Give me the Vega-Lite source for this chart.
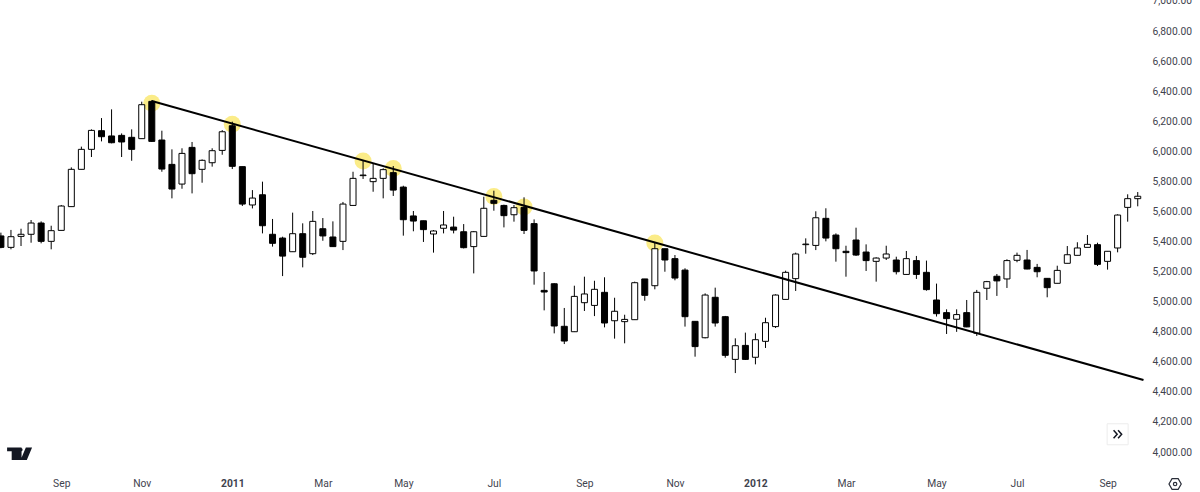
{
  "$schema": "https://vega.github.io/schema/vega-lite/v6.json",
  "autosize": {"type": "none"},
  "padding": {"left": 0, "top": 0, "right": 54, "bottom": 30},
  "width": 1146,
  "height": 462,
  "background": "#ffffff",
  "config": {"view": {"stroke": null}},
  "datasets": {
    "candles": [
      {"date":"2010-07-26","open":5437,"high":5459,"low":5355,"close":5361},
      {"date":"2010-08-02","open":5361,"high":5477,"low":5348,"close":5432},
      {"date":"2010-08-09","open":5434,"high":5485,"low":5370,"close":5448},
      {"date":"2010-08-16","open":5448,"high":5543,"low":5392,"close":5523},
      {"date":"2010-08-23","open":5523,"high":5534,"low":5388,"close":5401},
      {"date":"2010-08-30","open":5401,"high":5505,"low":5348,"close":5472},
      {"date":"2010-09-06","open":5474,"high":5643,"low":5474,"close":5636},
      {"date":"2010-09-13","open":5632,"high":5893,"low":5632,"close":5880},
      {"date":"2010-09-20","open":5880,"high":6031,"low":5880,"close":6013},
      {"date":"2010-09-27","open":6013,"high":6146,"low":5962,"close":6139},
      {"date":"2010-10-04","open":6137,"high":6221,"low":6066,"close":6097},
      {"date":"2010-10-11","open":6102,"high":6279,"low":6053,"close":6057},
      {"date":"2010-10-18","open":6106,"high":6119,"low":5962,"close":6062},
      {"date":"2010-10-25","open":6093,"high":6146,"low":5937,"close":6013},
      {"date":"2010-11-01","open":6084,"high":6330,"low":6084,"close":6310},
      {"date":"2010-11-08","open":6332,"high":6340,"low":6062,"close":6066},
      {"date":"2010-11-15","open":6075,"high":6137,"low":5864,"close":5882},
      {"date":"2010-11-22","open":5913,"high":6013,"low":5687,"close":5749},
      {"date":"2010-11-29","open":5782,"high":6020,"low":5751,"close":5986},
      {"date":"2010-12-06","open":6026,"high":6062,"low":5720,"close":5851},
      {"date":"2010-12-13","open":5880,"high":5946,"low":5791,"close":5940},
      {"date":"2010-12-20","open":5924,"high":6020,"low":5898,"close":6004},
      {"date":"2010-12-27","open":6006,"high":6141,"low":5977,"close":6130},
      {"date":"2011-01-03","open":6170,"high":6197,"low":5882,"close":5900},
      {"date":"2011-01-10","open":5898,"high":5898,"low":5636,"close":5649},
      {"date":"2011-01-17","open":5643,"high":5742,"low":5620,"close":5689},
      {"date":"2011-01-24","open":5711,"high":5798,"low":5454,"close":5505},
      {"date":"2011-01-31","open":5448,"high":5550,"low":5366,"close":5388},
      {"date":"2011-02-07","open":5423,"high":5432,"low":5170,"close":5303},
      {"date":"2011-02-14","open":5332,"high":5592,"low":5332,"close":5452},
      {"date":"2011-02-21","open":5452,"high":5521,"low":5228,"close":5295},
      {"date":"2011-02-28","open":5319,"high":5603,"low":5310,"close":5534},
      {"date":"2011-03-07","open":5485,"high":5556,"low":5405,"close":5437},
      {"date":"2011-03-14","open":5430,"high":5534,"low":5366,"close":5366},
      {"date":"2011-03-21","open":5401,"high":5663,"low":5343,"close":5649},
      {"date":"2011-03-28","open":5640,"high":5864,"low":5640,"close":5820},
      {"date":"2011-04-04","open":5838,"high":5938,"low":5816,"close":5842},
      {"date":"2011-04-11","open":5798,"high":5920,"low":5731,"close":5820},
      {"date":"2011-04-18","open":5820,"high":5887,"low":5687,"close":5878},
      {"date":"2011-04-25","open":5858,"high":5902,"low":5703,"close":5742},
      {"date":"2011-05-02","open":5762,"high":5771,"low":5439,"close":5545},
      {"date":"2011-05-09","open":5570,"high":5603,"low":5468,"close":5536},
      {"date":"2011-05-16","open":5538,"high":5538,"low":5397,"close":5479},
      {"date":"2011-05-23","open":5450,"high":5476,"low":5326,"close":5470},
      {"date":"2011-05-30","open":5488,"high":5603,"low":5454,"close":5510},
      {"date":"2011-06-06","open":5496,"high":5565,"low":5454,"close":5476},
      {"date":"2011-06-13","open":5465,"high":5516,"low":5354,"close":5359},
      {"date":"2011-06-20","open":5366,"high":5470,"low":5188,"close":5465},
      {"date":"2011-06-27","open":5434,"high":5698,"low":5434,"close":5621},
      {"date":"2011-07-04","open":5674,"high":5738,"low":5605,"close":5654},
      {"date":"2011-07-11","open":5640,"high":5645,"low":5494,"close":5572},
      {"date":"2011-07-18","open":5578,"high":5643,"low":5532,"close":5625},
      {"date":"2011-07-25","open":5627,"high":5694,"low":5450,"close":5474},
      {"date":"2011-08-01","open":5519,"high":5547,"low":5113,"close":5204},
      {"date":"2011-08-08","open":5075,"high":5197,"low":4942,"close":5064},
      {"date":"2011-08-15","open":5119,"high":5122,"low":4789,"close":4838},
      {"date":"2011-08-22","open":4836,"high":4958,"low":4718,"close":4738},
      {"date":"2011-08-29","open":4800,"high":5106,"low":4798,"close":5035},
      {"date":"2011-09-05","open":4993,"high":5166,"low":4938,"close":5051},
      {"date":"2011-09-12","open":4975,"high":5139,"low":4904,"close":5082},
      {"date":"2011-09-19","open":5062,"high":5162,"low":4829,"close":4858},
      {"date":"2011-09-26","open":4873,"high":5026,"low":4754,"close":4936},
      {"date":"2011-10-03","open":4867,"high":4913,"low":4723,"close":4882},
      {"date":"2011-10-10","open":4880,"high":5133,"low":4880,"close":5126},
      {"date":"2011-10-17","open":5151,"high":5151,"low":5006,"close":5042},
      {"date":"2011-10-24","open":5106,"high":5397,"low":5082,"close":5352},
      {"date":"2011-10-31","open":5352,"high":5352,"low":5199,"close":5277},
      {"date":"2011-11-07","open":5286,"high":5310,"low":5142,"close":5157},
      {"date":"2011-11-14","open":5210,"high":5222,"low":4834,"close":4900},
      {"date":"2011-11-21","open":4869,"high":4869,"low":4634,"close":4701},
      {"date":"2011-11-28","open":4760,"high":5055,"low":4756,"close":5044},
      {"date":"2011-12-05","open":5029,"high":5093,"low":4834,"close":4858},
      {"date":"2011-12-12","open":4900,"high":4905,"low":4627,"close":4643},
      {"date":"2011-12-19","open":4616,"high":4756,"low":4525,"close":4707},
      {"date":"2011-12-26","open":4709,"high":4794,"low":4612,"close":4616},
      {"date":"2012-01-02","open":4630,"high":4789,"low":4583,"close":4747},
      {"date":"2012-01-09","open":4736,"high":4893,"low":4692,"close":4860},
      {"date":"2012-01-16","open":4834,"high":5049,"low":4825,"close":5044},
      {"date":"2012-01-23","open":5015,"high":5206,"low":5015,"close":5195},
      {"date":"2012-01-30","open":5153,"high":5326,"low":5071,"close":5317},
      {"date":"2012-02-06","open":5379,"high":5421,"low":5319,"close":5383},
      {"date":"2012-02-13","open":5374,"high":5601,"low":5343,"close":5558},
      {"date":"2012-02-20","open":5554,"high":5621,"low":5401,"close":5423},
      {"date":"2012-02-27","open":5443,"high":5454,"low":5266,"close":5352},
      {"date":"2012-03-05","open":5335,"high":5372,"low":5166,"close":5326},
      {"date":"2012-03-12","open":5410,"high":5492,"low":5304,"close":5310},
      {"date":"2012-03-19","open":5330,"high":5381,"low":5204,"close":5273},
      {"date":"2012-03-26","open":5268,"high":5295,"low":5133,"close":5290},
      {"date":"2012-04-02","open":5290,"high":5372,"low":5277,"close":5317},
      {"date":"2012-04-09","open":5277,"high":5299,"low":5181,"close":5199},
      {"date":"2012-04-16","open":5181,"high":5337,"low":5181,"close":5286},
      {"date":"2012-04-23","open":5273,"high":5304,"low":5151,"close":5181},
      {"date":"2012-04-30","open":5195,"high":5273,"low":5073,"close":5080},
      {"date":"2012-05-07","open":5011,"high":5120,"low":4901,"close":4920},
      {"date":"2012-05-14","open":4927,"high":4949,"low":4785,"close":4887},
      {"date":"2012-05-21","open":4883,"high":4949,"low":4799,"close":4914},
      {"date":"2012-05-28","open":4927,"high":5011,"low":4830,"close":4832},
      {"date":"2012-06-04","open":4790,"high":5078,"low":4772,"close":5062},
      {"date":"2012-06-11","open":5089,"high":5138,"low":5011,"close":5133},
      {"date":"2012-06-18","open":5169,"high":5184,"low":5038,"close":5138},
      {"date":"2012-06-25","open":5151,"high":5282,"low":5091,"close":5273},
      {"date":"2012-07-02","open":5275,"high":5326,"low":5262,"close":5308},
      {"date":"2012-07-09","open":5277,"high":5344,"low":5215,"close":5217},
      {"date":"2012-07-16","open":5228,"high":5251,"low":5162,"close":5199},
      {"date":"2012-07-23","open":5155,"high":5155,"low":5029,"close":5093},
      {"date":"2012-07-30","open":5122,"high":5239,"low":5122,"close":5208},
      {"date":"2012-08-06","open":5255,"high":5370,"low":5255,"close":5312},
      {"date":"2012-08-13","open":5308,"high":5395,"low":5308,"close":5357},
      {"date":"2012-08-20","open":5361,"high":5443,"low":5361,"close":5381},
      {"date":"2012-08-27","open":5379,"high":5392,"low":5237,"close":5248},
      {"date":"2012-09-03","open":5268,"high":5335,"low":5213,"close":5335},
      {"date":"2012-09-10","open":5357,"high":5581,"low":5328,"close":5576},
      {"date":"2012-09-17","open":5627,"high":5714,"low":5532,"close":5685},
      {"date":"2012-09-24","open":5685,"high":5729,"low":5634,"close":5701}
    ],
    "touches": [
      {"date":"2010-11-08","price":6320},
      {"date":"2011-01-03","price":6180},
      {"date":"2011-04-04","price":5935},
      {"date":"2011-04-25","price":5885},
      {"date":"2011-07-04","price":5700},
      {"date":"2011-07-25","price":5630},
      {"date":"2011-10-24","price":5390}
    ],
    "trend": [
      {"date":"2010-11-08","price":6335},
      {"date":"2012-09-28","price":4479}
    ]
  },
  "encoding": {
    "x": {
      "field": "date",
      "type": "temporal",
      "scale": {"domain": ["2010-07-25T09:00:00Z", "2012-09-29T18:00:00Z"], "padding": 0},
      "axis": {
        "title": null,
        "grid": false,
        "domain": false,
        "ticks": false,
        "labelFont": "Roboto",
        "labelFontSize": 10.3,
        "labelColor": "#3f434e",
        "labelPadding": 16,
        "labelFlush": false,
        "labelOverlap": false,
        "values": ["2010-09-06","2010-11-01","2011-01-03","2011-03-07","2011-05-02","2011-07-04","2011-09-05","2011-11-07","2012-01-02","2012-03-05","2012-05-07","2012-07-02","2012-09-03"],
        "labelExpr": "month(datum.value) == 0 ? timeFormat(datum.value, '%Y') : timeFormat(datum.value, '%b')",
        "labelFontWeight": {"condition": {"test": "month(datum.value) == 0", "value": "bold"}, "value": "normal"}
      }
    },
    "y": {
      "type": "quantitative",
      "scale": {"domain": [3933.5, 7006.3], "nice": false, "zero": false},
      "axis": {
        "title": null,
        "orient": "right",
        "grid": false,
        "domain": false,
        "ticks": false,
        "labelFont": "Roboto",
        "labelFontSize": 10.3,
        "labelColor": "#3f434e",
        "labelPadding": 6,
        "labelOverlap": false,
        "values": [4000,4200,4400,4600,4800,5000,5200,5400,5600,5800,6000,6200,6400,6600,6800,7000],
        "format": ",.2f"
      }
    }
  },
  "layer": [
    {
      "data": {"name": "touches"},
      "mark": {"type": "point", "filled": true, "size": 290, "color": "#fbec88", "opacity": 1},
      "encoding": {"y": {"field": "price"}}
    },
    {
      "data": {"name": "candles"},
      "mark": {"type": "rule", "color": "#000000", "strokeWidth": 1},
      "encoding": {"y": {"field": "high"}, "y2": {"field": "low"}}
    },
    {
      "data": {"name": "candles"},
      "mark": {"type": "bar", "orient": "vertical", "width": 6, "stroke": "#000000", "strokeWidth": 1},
      "encoding": {
        "y": {"field": "open"},
        "y2": {"field": "close"},
        "fill": {"condition": {"test": "datum.close >= datum.open", "value": "#ffffff"}, "value": "#000000"}
      }
    },
    {
      "data": {"name": "trend"},
      "mark": {"type": "line", "color": "#000000", "strokeWidth": 2},
      "encoding": {"y": {"field": "price"}}
    },
    {
      "data": {"values": [{"date":"2010-08-08","price":3989}]},
      "mark": {"type": "point", "filled": true, "size": 625, "color": "#131722", "opacity": 1,
        "shape": "M-1 -0.5L0.158 -0.5L0.158 0.5L-0.632 0.5L-0.632 -0.184L-1 -0.184ZM-0.06 -0.32A0.15 0.15 0 1 1 0.24 -0.32A0.15 0.15 0 1 1 -0.06 -0.32ZM0.5 -0.5L1 -0.5L0.579 0.5L0.08 0.5Z"},
      "encoding": {"y": {"field": "price"}}
    },
    {
      "data": {"values": [{"date":"2012-09-10","price":4118}]},
      "mark": {"type": "point", "filled": true, "shape": "square", "size": 441, "color": "#ffffff", "stroke": "#ececec", "strokeWidth": 1, "opacity": 1},
      "encoding": {"y": {"field": "price"}}
    },
    {
      "data": {"values": [{"date":"2012-09-10","price":4118}]},
      "mark": {"type": "point", "filled": false, "size": 81, "color": "#131722", "strokeWidth": 1.5, "opacity": 1,
        "shape": "M-0.9 -0.9L-0.1 0L-0.9 0.9M0.1 -0.9L0.9 0L0.1 0.9"},
      "encoding": {"y": {"field": "price"}}
    },
    {
      "data": {"values": [{"date":"2012-10-20","price":3787}]},
      "mark": {"type": "point", "filled": false, "size": 150, "color": "#2a2e39", "strokeWidth": 1.2, "opacity": 1,
        "shape": "M-1 0L-0.5 -0.87L0.5 -0.87L1 0L0.5 0.87L-0.5 0.87ZM-0.28 0A0.28 0.28 0 1 1 0.28 0A0.28 0.28 0 1 1 -0.28 0Z"},
      "encoding": {"y": {"field": "price"}}
    }
  ]
}
